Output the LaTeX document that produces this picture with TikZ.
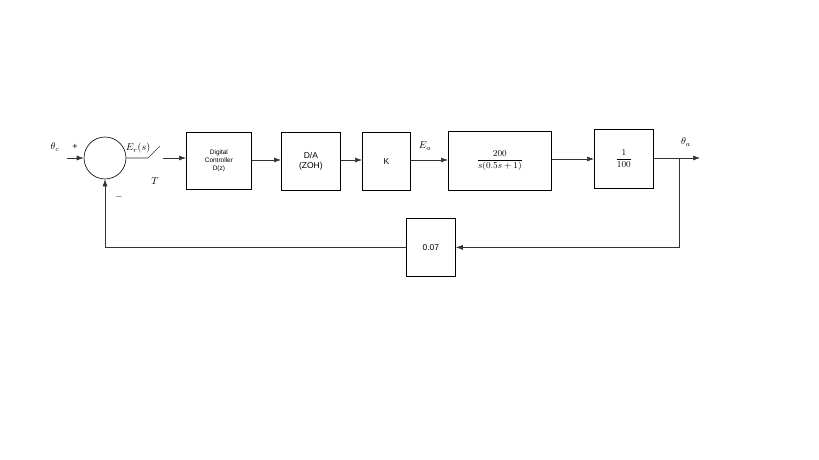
\documentclass[tikz,border=0pt]{standalone}
\usepackage{fontspec}
\setmainfont{Liberation Sans}
\usetikzlibrary{arrows.meta}
\begin{document}
\begin{tikzpicture}[x=1pt,y=-1pt,
  blk/.style={draw,line width=0.8pt,inner sep=0pt,anchor=north west},
  ln/.style={draw,line width=0.6pt,black!80},
  ar/.style={ln,-{Latex[length=7pt,width=5pt]}},
  mth/.style={font=\fontsize{10}{11}\selectfont}]
\useasboundingbox (0,0) rectangle (819,460);
\node[draw,circle,minimum size=42pt,inner sep=0pt,line width=0.6pt] (sum) at (105,158) {};
\coordinate (in) at (67,158);
\node[mth] at (55,147) {$\theta_c$};
\node[font=\small] at (75,147) {+};
\node[font=\small] at (119,197) {$-$};
\node[mth] at (138,148) {$E_r(s)$};
\node[mth] at (155,181) {$T$};
\coordinate (sw1) at (148,158);
\coordinate (sw2) at (160,146);
\coordinate (sw3) at (163,158);
\node[blk,minimum width=65pt,minimum height=57pt,align=center,font=\fontsize{6.5}{8}\selectfont] (dc) at (186,132) {Digital\\Controller\\D(z)};
\node[blk,minimum width=59pt,minimum height=58pt,align=center,font=\fontsize{8.5}{9.5}\selectfont] (da) at (281,132) {D/A\\(ZOH)};
\node[blk,minimum width=48pt,minimum height=58pt,font=\fontsize{8.5}{9.5}\selectfont] (k) at (362,132) {K};
\node[mth] at (425,146) {$E_a$};
\node[blk,minimum width=103pt,minimum height=59pt,font=\fontsize{9}{11}\selectfont] (g) at (448,131) {$\displaystyle\frac{200}{s(0.5s+1)}$};
\node[blk,minimum width=59pt,minimum height=59pt,font=\fontsize{9}{11}\selectfont] (h) at (594,129) {$\displaystyle\frac{1}{100}$};
\coordinate (out) at (700,158);
\coordinate (br) at (679,158);
\node[mth] at (686,142) {$\theta_a$};
\node[blk,minimum width=49pt,minimum height=58pt,font=\fontsize{8.5}{10}\selectfont] (f) at (406,218) {0.07};
\draw[ar] (in) -- (sum.west);
\draw[ln] (sum.east) -- (sw1) -- (sw2);
\draw[ar] (sw3) -- (dc.west |- sw3);
\draw[ar] (dc.east |- 0,160) -- (da.west |- 0,160);
\draw[ar] (da.east |- 0,160) -- (k.west |- 0,160);
\draw[ar] (k.east |- 0,160) -- (g.west |- 0,160);
\draw[ar] (g.east |- 0,159) -- (h.west |- 0,159);
\draw[ar] (h.east |- br) -- (out);
\draw[ar] (br) |- (f.east);
\draw[ar] (f.west) -| (sum.south);
\end{tikzpicture}
\end{document}
